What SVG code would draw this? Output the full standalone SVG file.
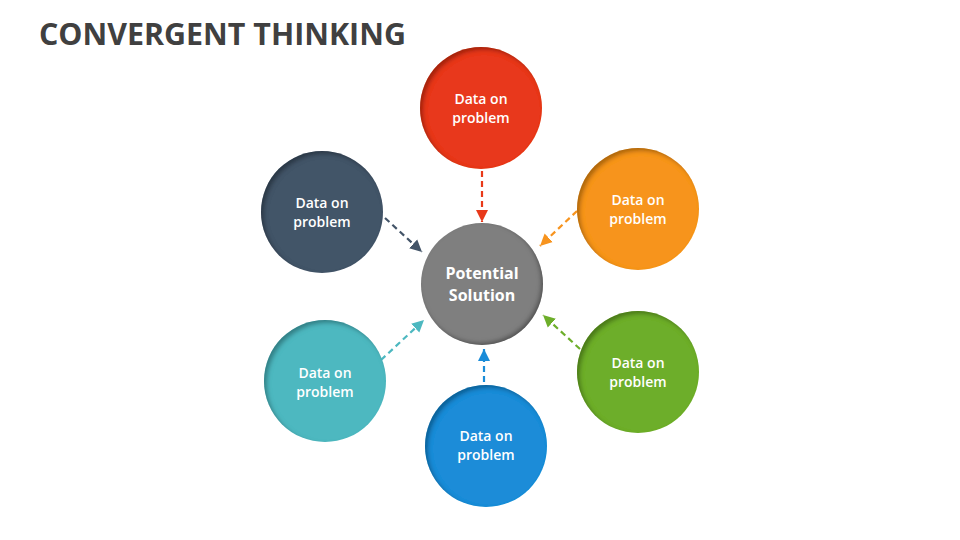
<svg xmlns="http://www.w3.org/2000/svg" width="960" height="540" viewBox="0 0 960 540">
  <style>
    .title { font-family: "Open Sans", "Liberation Sans", sans-serif; font-weight: 700; font-size: 30.4px; fill: #404040; }
    .lbl { font-family: "Open Sans", "Liberation Sans", sans-serif; font-weight: 600; font-size: 14px; fill: #ffffff; text-anchor: middle; }
    .center { font-family: "Open Sans", "Liberation Sans", sans-serif; font-weight: 700; font-size: 16px; fill: #ffffff; text-anchor: middle; }
    .conn { fill: none; stroke-width: 2.2; stroke-dasharray: 6 4; }
  </style>
  <defs>
    <filter id="insetTL" x="-10%" y="-10%" width="120%" height="120%">
      <feComponentTransfer in="SourceAlpha"><feFuncA type="table" tableValues="1 0"/></feComponentTransfer>
      <feGaussianBlur stdDeviation="2"/>
      <feOffset dx="2.5" dy="2.5" result="off"/>
      <feFlood flood-color="#000" flood-opacity="0.55"/>
      <feComposite operator="in" in2="off"/>
      <feComposite operator="in" in2="SourceAlpha" result="sh"/>
      <feMerge><feMergeNode in="SourceGraphic"/><feMergeNode in="sh"/></feMerge>
    </filter>
    <filter id="insetBR" x="-10%" y="-10%" width="120%" height="120%">
      <feComponentTransfer in="SourceAlpha"><feFuncA type="table" tableValues="1 0"/></feComponentTransfer>
      <feGaussianBlur stdDeviation="2"/>
      <feOffset dx="-2.5" dy="-2.5" result="off"/>
      <feFlood flood-color="#000" flood-opacity="0.6"/>
      <feComposite operator="in" in2="off"/>
      <feComposite operator="in" in2="SourceAlpha" result="sh"/>
      <feMerge><feMergeNode in="SourceGraphic"/><feMergeNode in="sh"/></feMerge>
    </filter>
    <marker id="aRed" markerUnits="userSpaceOnUse" markerWidth="13" markerHeight="13" refX="12" refY="6.5" orient="auto"><path d="M0,0.5 L12,6.5 L0,12.5 z" fill="#E8391A"/></marker>
    <marker id="aOrange" markerUnits="userSpaceOnUse" markerWidth="13" markerHeight="13" refX="12" refY="6.5" orient="auto"><path d="M0,0.5 L12,6.5 L0,12.5 z" fill="#F7941F"/></marker>
    <marker id="aGreen" markerUnits="userSpaceOnUse" markerWidth="13" markerHeight="13" refX="12" refY="6.5" orient="auto"><path d="M0,0.5 L12,6.5 L0,12.5 z" fill="#6DAE2A"/></marker>
    <marker id="aBlue" markerUnits="userSpaceOnUse" markerWidth="13" markerHeight="13" refX="12" refY="6.5" orient="auto"><path d="M0,0.5 L12,6.5 L0,12.5 z" fill="#1A8CD8"/></marker>
    <marker id="aTeal" markerUnits="userSpaceOnUse" markerWidth="13" markerHeight="13" refX="12" refY="6.5" orient="auto"><path d="M0,0.5 L12,6.5 L0,12.5 z" fill="#4DB8C0"/></marker>
    <marker id="aNavy" markerUnits="userSpaceOnUse" markerWidth="13" markerHeight="13" refX="12" refY="6.5" orient="auto"><path d="M0,0.5 L12,6.5 L0,12.5 z" fill="#435468"/></marker>
  </defs>

  <rect width="960" height="540" fill="#ffffff"/>
  <text class="title" x="39" y="45">CONVERGENT THINKING</text>

  <g id="connectors">
    <line class="conn" x1="482" y1="171" x2="482" y2="222" stroke="#E8391A" marker-end="url(#aRed)"/>
    <line class="conn" x1="577" y1="211" x2="540" y2="246" stroke="#F7941F" marker-end="url(#aOrange)"/>
    <line class="conn" x1="580" y1="349" x2="543" y2="315" stroke="#6DAE2A" marker-end="url(#aGreen)"/>
    <line class="conn" x1="484" y1="382" x2="484" y2="349" stroke="#1A8CD8" marker-end="url(#aBlue)"/>
    <line class="conn" x1="381" y1="360" x2="424" y2="320" stroke="#4DB8C0" marker-end="url(#aTeal)"/>
    <line class="conn" x1="385" y1="218" x2="422" y2="252" stroke="#435468" marker-end="url(#aNavy)"/>
  </g>

  <g id="center-node">
    <circle cx="482" cy="284" r="61" fill="#7F7F7F" filter="url(#insetBR)"/>
    <text class="center" x="482" y="279">Potential</text>
    <text class="center" x="482" y="301">Solution</text>
  </g>

  <g id="node-top">
    <circle cx="481" cy="108" r="61" fill="#E8391A" filter="url(#insetTL)"/>
    <text class="lbl" x="481" y="104">Data on</text>
    <text class="lbl" x="481" y="123">problem</text>
  </g>

  <g id="node-upper-right">
    <circle cx="638" cy="209" r="61" fill="#F7941F" filter="url(#insetTL)"/>
    <text class="lbl" x="638" y="205">Data on</text>
    <text class="lbl" x="638" y="224">problem</text>
  </g>

  <g id="node-lower-right">
    <circle cx="638" cy="372" r="61" fill="#6DAE2A" filter="url(#insetTL)"/>
    <text class="lbl" x="638" y="368">Data on</text>
    <text class="lbl" x="638" y="387">problem</text>
  </g>

  <g id="node-bottom">
    <circle cx="486" cy="446" r="61" fill="#1A8CD8" filter="url(#insetTL)"/>
    <text class="lbl" x="486" y="441">Data on</text>
    <text class="lbl" x="486" y="460">problem</text>
  </g>

  <g id="node-lower-left">
    <circle cx="325" cy="381" r="61" fill="#4DB8C0" filter="url(#insetTL)"/>
    <text class="lbl" x="325" y="378">Data on</text>
    <text class="lbl" x="325" y="397">problem</text>
  </g>

  <g id="node-upper-left">
    <circle cx="322" cy="212" r="61" fill="#435468" filter="url(#insetTL)"/>
    <text class="lbl" x="322" y="208">Data on</text>
    <text class="lbl" x="322" y="227">problem</text>
  </g>
</svg>
